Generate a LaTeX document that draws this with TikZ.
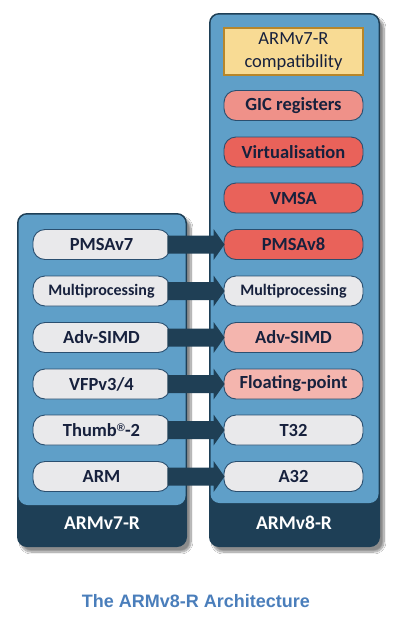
\documentclass[tikz,border=0pt]{standalone}
\usepackage{fontspec}
\setmainfont{Carlito}
\newfontfamily\capfont{Liberation Sans}
\usetikzlibrary{shadows.blur,calc}
\definecolor{boxlight}{HTML}{5F9FC8}
\definecolor{boxdark}{HTML}{1E3F56}
\definecolor{pillgray}{HTML}{E9E9EB}
\definecolor{pillborder}{HTML}{2A4F70}
\definecolor{pinkc}{HTML}{F4B5AE}
\definecolor{salmonc}{HTML}{EF9189}
\definecolor{redc}{HTML}{E9625A}
\definecolor{compatfill}{HTML}{F8DB94}
\definecolor{compatborder}{HTML}{B7862A}
\definecolor{arrowc}{HTML}{1F3F55}
\definecolor{txt}{HTML}{17213D}
\definecolor{capc}{HTML}{4A7EBB}
\tikzset{
  x=1pt, y=-1pt,
  pill/.style={draw=pillborder, line width=0.9pt, rounded corners=12pt,
    minimum height=30pt, fill=pillgray, text=txt, inner sep=0pt,
    font=\bfseries\fontsize{18.5}{20}\selectfont},
  lpill/.style={pill, minimum width=137pt},
  rpill/.style={pill, minimum width=139pt},
  small/.style={font=\bfseries\fontsize{16}{18}\selectfont},
  outer/.style={fill=boxdark, rounded corners=10pt,
    blur shadow={shadow xshift=4pt, shadow yshift=-5pt, shadow blur steps=12, shadow opacity=45}},
  inner/.style={fill=boxlight, rounded corners=9pt},
  band/.style={text=white, font=\bfseries\fontsize{19.5}{20}\selectfont},
  arr/.style={fill=arrowc},
}
\begin{document}
\begin{tikzpicture}
\useasboundingbox (0,0) rectangle (401,638);
\fill[white] (0,0) rectangle (401,638);
% boxes
\fill[outer] (17,213) rectangle (187,547);
\fill[inner] (18.5,214.5) rectangle (185.5,505);
\fill[outer] (209,13) rectangle (380,547);
\fill[inner] (210.5,14.5) rectangle (378.5,503);
\node[band] (v7) at (102,523) {ARMv7-R};
\node[band] (v8) at (294,523) {ARMv8-R};
% right top
\node[draw=compatborder, line width=1.2pt, fill=compatfill, minimum width=139pt, minimum height=47pt,
  text=txt, align=center, inner sep=0pt, font=\fontsize{18.5}{23}\selectfont] (compat) at (293.5,51.5) {ARMv7-R\\compatibility};
\node[rpill, fill=salmonc] (gic) at (293.5,105.5) {GIC registers};
\node[rpill, fill=redc] (virt) at (293.5,152) {Virtualisation};
\node[rpill, fill=redc] (vmsa) at (293.5,198) {VMSA};
% rows
\foreach \i/\y/\lt/\rt/\rf/\ls in {
  1/244.5/PMSAv7/PMSAv8/redc/,
  2/291/Multiprocessing/Multiprocessing/pillgray/small,
  3/337.5/Adv-SIMD/Adv-SIMD/pinkc/,
  4/384/VFPv3\slash 4/Floating-point/pinkc/,
  5/430/Thumb\raisebox{0.6ex}{\capfont\fontsize{11}{11}\selectfont ®}-2/T32/pillgray/,
  6/476.5/ARM/A32/pillgray/}{
  \node[lpill, \ls] (l\i) at (101.5,\y) {\lt};
  \node[rpill, fill=\rf, \ls] (r\i) at (293.5,\y) {\rt};
  \fill[arr] ($(l\i.east)+(-3,-9)$) -- ($(r\i.west)+(-10,-9)$) -- ($(r\i.west)+(-10,-15.5)$)
    -- ($(r\i.west)+(1,0)$) -- ($(r\i.west)+(-10,15.5)$) -- ($(r\i.west)+(-10,9)$)
    -- ($(l\i.east)+(-3,9)$) -- cycle;
}
\node[text=capc, font=\capfont\bfseries\fontsize{18}{20}\selectfont] (cap) at (196,601) {The ARMv8-R Architecture};
\end{tikzpicture}
\end{document}
